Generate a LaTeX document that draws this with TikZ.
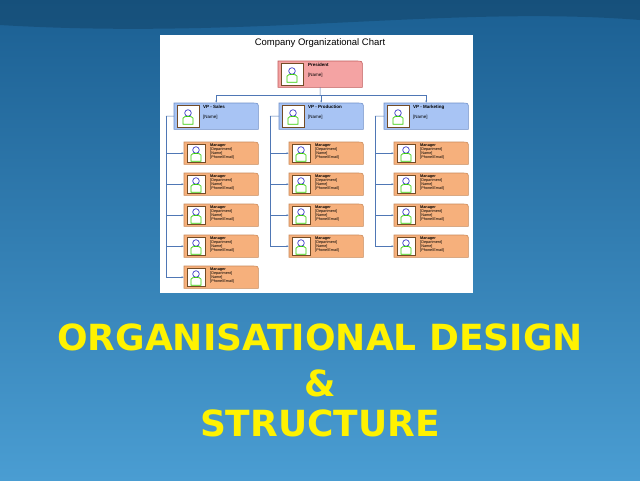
\documentclass[tikz,border=0pt]{standalone}
\usepackage{fontspec}
\setmainfont{DejaVu Sans}
\newfontfamily\lsans{Liberation Sans}
\definecolor{bgtop}{HTML}{1B5F92}
\definecolor{bgbot}{HTML}{4A9DD2}
\definecolor{pres}{HTML}{F4A3A3}
\definecolor{presb}{HTML}{C05A5A}
\definecolor{vp}{HTML}{A8C4F4}
\definecolor{vpb}{HTML}{6F8FC8}
\definecolor{mg}{HTML}{F6B07C}
\definecolor{mgb}{HTML}{C98A5A}
\definecolor{conn}{HTML}{4F77B5}
\definecolor{ttl}{HTML}{FFF200}
\newcommand\obox[7]{% name x y w h fill border
  \node[inner sep=0pt,minimum width=#4pt,minimum height=#5pt,anchor=north west] (#1) at (#2,#3) {};
  \fill[#6,draw=#7,line width=0.6pt] (#1.south west) -- (#1.north west) -- ([xshift=-6pt]#1.north east)
     .. controls (#1.north east) .. ([yshift=-6pt]#1.north east) -- (#1.south east) -- cycle;
  \node[draw=brown!60!black,fill=white,line width=1pt,minimum width=#5pt-4pt,minimum height=#5pt-4pt,inner sep=0pt,anchor=west] (#1i) at ([xshift=2.5pt]#1.west) {};
  \draw[blue!55!gray,line width=0.7pt] ([yshift=3.2pt]#1i.center) circle (3.3pt);
  \draw[green!60!olive,line width=0.7pt] ([xshift=-5pt,yshift=-8pt]#1i.center) -- ([xshift=-5pt,yshift=-2pt]#1i.center) .. controls ([xshift=-5pt,yshift=0.5pt]#1i.center) and ([xshift=5pt,yshift=0.5pt]#1i.center) .. ([xshift=5pt,yshift=-2pt]#1i.center) -- ([xshift=5pt,yshift=-8pt]#1i.center) -- cycle;
}
\tikzset{lbl/.style={inner sep=0pt,anchor=north west,align=left,font=\lsans\fontsize{4.5}{5}\selectfont},
  mlbl/.style={inner sep=0pt,anchor=north west,align=left,font=\lsans\fontsize{3.8}{3.9}\selectfont},
  arr/.style={conn,line width=0.5pt,-{Latex[length=2.5pt,width=2pt]}},
  ln/.style={conn,line width=0.5pt},
  big/.style={text=ttl,font=\bfseries\fontsize{36}{40}\selectfont,inner sep=0pt}}
\usetikzlibrary{arrows.meta}
\begin{document}
\begin{tikzpicture}[x=1pt,y=-1pt]
\shade[top color=bgtop,bottom color=bgbot] (0,0) rectangle (640,480);
\useasboundingbox (0,0) rectangle (640,480);
\fill[bgtop!70!black,opacity=0.5] (0,0) -- (640,0) -- (640,20) .. controls (450,5) and (250,40) .. (0,25) -- cycle;
\node[fill=white,minimum width=313pt,minimum height=258pt,inner sep=0pt,anchor=north west] (panel) at (160,35) {};
\node[font=\lsans\fontsize{9.5}{10}\selectfont,inner sep=0pt] (title) at (320,43) {Company Organizational Chart};
\obox{P}{278}{61}{84}{26}{pres}{presb}
\node[lbl] at (308,63) {\textbf{President}};
\node[lbl] at (308,73) {[Name]};
\foreach \n/\x/\t in {S/174/VP - Sales,R/279/VP - Production,M/384/VP - Marketing}{
  \obox{\n}{\x}{103}{84}{26}{vp}{vpb}
  \node[lbl] at (\x+29,105) {\textbf{\t}};
  \node[lbl] at (\x+29,115) {[Name]};
}
\coordinate (bar) at (320,95);
\draw[ln] (P.south) -- (bar);
\draw[ln] (216,95) -- (426,95);
\foreach \n in {S,R,M}{ \draw[arr] (\n.north |- bar) -- (\n.north); }
\foreach \n/\x/\k/\lx in {S/184/5/166,R/289/4/270,M/394/4/375}{
  \coordinate (\n t) at (\lx,116);
  \draw[ln] (\n.west) -- (\n t);
  \foreach \i in {1,...,\k}{
    \pgfmathsetmacro\yy{142+31*(\i-1)}
    \pgfmathsetmacro\xt{\x+26}
    \pgfmathsetmacro\yt{\yy+1.5}
    \obox{\n\i}{\x}{\yy}{74}{22}{mg}{mgb}
    \node[mlbl] at (\xt,\yt) {\textbf{Manager}\\{}[Department]\\{}[Name]\\{}[Phone/Email]};
    \draw[arr] (\n\i.west -| \n t) -- (\n\i.west);
  }
  \draw[ln] (\n t) -- (\n\k.west -| \n t);
}
\node[big] (l1) at (320,337) {ORGANISATIONAL DESIGN};
\node[big] (l2) at (320,383) {\&};
\node[big] (l3) at (320,423) {STRUCTURE};
\end{tikzpicture}
\end{document}
